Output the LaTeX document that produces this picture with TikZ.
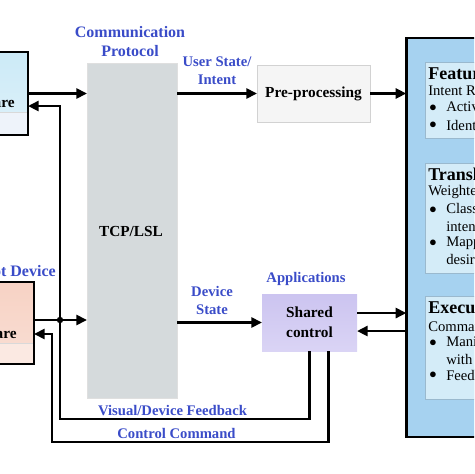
\documentclass[tikz,border=0pt]{standalone}
\usepackage{fontspec}
\setmainfont{Liberation Serif}
\usetikzlibrary{arrows.meta}

\begin{document}
\begin{tikzpicture}[x=0.75pt,y=-0.75pt,
  link/.style={line width=2pt, -{Triangle[length=8pt,width=7.5pt]}},
  bluelbl/.style={text=LblBlue, font=\fontsize{11}{13.5}\selectfont\bfseries, align=center, inner sep=0pt},
  boxlbl/.style={font=\fontsize{11.5}{15}\selectfont\bfseries, align=center, inner sep=0pt},
  ttl/.style={anchor=west, inner sep=0pt, font=\fontsize{13.5}{15}\selectfont\bfseries},
  itm/.style={anchor=west, inner sep=0pt, font=\fontsize{11}{12}\selectfont}]
\definecolor{LblBlue}{RGB}{58,76,200}
\definecolor{SwTop}{RGB}{204,234,247}
\definecolor{SwBand}{RGB}{238,243,250}
\definecolor{HwTop}{RGB}{247,210,196}
\definecolor{HwBand}{RGB}{251,233,226}
\definecolor{TcpGray}{RGB}{213,218,220}
\definecolor{ShTop}{RGB}{204,196,240}
\definecolor{ShBot}{RGB}{218,212,245}
\definecolor{BigBlue}{RGB}{166,210,240}
\definecolor{InBlue}{RGB}{212,236,248}

\useasboundingbox (0,0) rectangle (474,474);
\clip (0,0) rectangle (474,474);

% ======================= LEFT: the two side boxes =======================
\fill[top color=SwTop, bottom color=SwTop!75!white] (-60,52) rectangle (28,112);
\fill[SwBand] (-60,112) rectangle (28,135);
\draw[gray!30] (-60,112) -- (28,112);
\node[draw=black, line width=1.5pt, minimum width=66pt, minimum height=62.25pt, inner sep=0pt, outer sep=0pt] (sw) at (-16,93.5) {};
\node[boxlbl, anchor=east] (swtxt) at (15,102) {Software};

\fill[top color=HwTop, bottom color=HwTop!80!white] (-60,282) rectangle (34,343);
\fill[HwBand] (-60,343) rectangle (34,364);
\draw[gray!30] (-60,343) -- (34,343);
\node[draw=black, line width=1.5pt, minimum width=70.5pt, minimum height=61.5pt, inner sep=0pt, outer sep=0pt] (hw) at (-13,323) {};
\node[boxlbl, anchor=east] (hwtxt) at (17,333) {Hardware};
\node[bluelbl, anchor=east, font=\fontsize{12}{14}\selectfont\bfseries] (devlbl) at (56,271) {Robot Device};

% ======================= MIDDLE: protocol, pre-processing, shared control =======================
\node[bluelbl, font=\fontsize{12}{14.25}\selectfont\bfseries] (protlbl) at (130,41.5) {Communication\\Protocol};
\node[fill=TcpGray, draw=gray!25, minimum width=67.5pt, minimum height=251.25pt, inner sep=0pt, outer sep=0pt] (tcp) at (132,230.5) {};
\node[boxlbl] (tcptxt) at (131,231) {TCP/LSL};

\node[bluelbl] (userlbl) at (217,71) {User State/\\Intent};
\node[fill=gray!8, draw=gray!35, minimum width=84.75pt, minimum height=42.75pt, inner sep=0pt, outer sep=0pt, boxlbl] (pre) at (313.5,93.5) {Pre-processing};

\node[bluelbl] (devst) at (212,300.5) {Device\\State};
\node[bluelbl] (applbl) at (306,279) {Applications};
\node[top color=ShTop, bottom color=ShBot, minimum width=71.25pt, minimum height=42.75pt, inner sep=0pt, outer sep=0pt, boxlbl] (shared) at (309.5,322.5) {Shared\\control};

% ======================= RIGHT: processing stages =======================
\node[fill=BigBlue, draw=black, line width=2pt, minimum width=85pt, minimum height=299.25pt, inner sep=0pt, outer sep=0pt] (big) at (463,237.5) {};

\filldraw[fill=InBlue, draw=BigBlue!70!gray] (425,62) rectangle (520,138);
\node[ttl] (ft) at (428,73) {Feature Extraction};
\node[itm] at (428,92) {Intent Recognition};
\node[itm] at (429,108) {$\bullet$};
\node[itm] at (446,108) {Activity};
\node[itm] at (429,125) {$\bullet$};
\node[itm] at (446,125) {Identification};

\filldraw[fill=InBlue, draw=BigBlue!70!gray] (425,163) rectangle (520,273);
\node[ttl] (tr) at (428,174) {Translation};
\node[itm] at (428,192) {Weighted};
\node[itm] at (429,210) {$\bullet$};
\node[itm] at (446,210) {Classify};
\node[itm] at (446,227) {intent};
\node[itm] at (429,243) {$\bullet$};
\node[itm] at (446,243) {Mapping};
\node[itm] at (446,259) {desired};

\filldraw[fill=InBlue, draw=BigBlue!70!gray] (425,296) rectangle (520,399);
\node[ttl] (ex) at (428,307) {Execution};
\node[itm] at (428,326) {Command};
\node[itm] at (429,343) {$\bullet$};
\node[itm] at (446,343) {Manipulate};
\node[itm] at (446,359) {with};
\node[itm] at (429,375) {$\bullet$};
\node[itm] at (446,375) {Feedback};

% ======================= CONNECTORS =======================
\coordinate (fbcorner) at (60,419);
\coordinate (cccorner) at (52,442);
\coordinate (junc) at (60,320);

\draw[link] (sw.east) -- (sw.east -| tcp.west);
\draw[link] (tcp.east |- pre.west) -- (pre.west);
\draw[link] (pre.east) -- (pre.east -| big.west);

\draw[link] (hw.east |- junc) -- (junc -| tcp.west);
\fill (junc) circle (2.4pt);
\draw[link] (tcp.east |- shared.west) -- (shared.west);
\draw[link] ([yshift=7.1pt]shared.east) -- ([yshift=7.1pt]shared.east -| big.west);
\draw[link] ([yshift=-6.4pt]shared.east -| big.west) -- ([yshift=-6.4pt]shared.east);

% feedback loops back to the two side boxes
\draw[link] (shared.south) |- (fbcorner) |- ([yshift=-9.4pt]sw.east);
\draw[link] ([xshift=14.25pt]shared.south) |- (cccorner) |- ([yshift=-8.25pt]hw.east);
\node[bluelbl] (fblbl) at (172.5,411) {Visual/Device Feedback};
\node[bluelbl] (cclbl) at (176.5,433) {Control Command};

\end{tikzpicture}
\end{document}
